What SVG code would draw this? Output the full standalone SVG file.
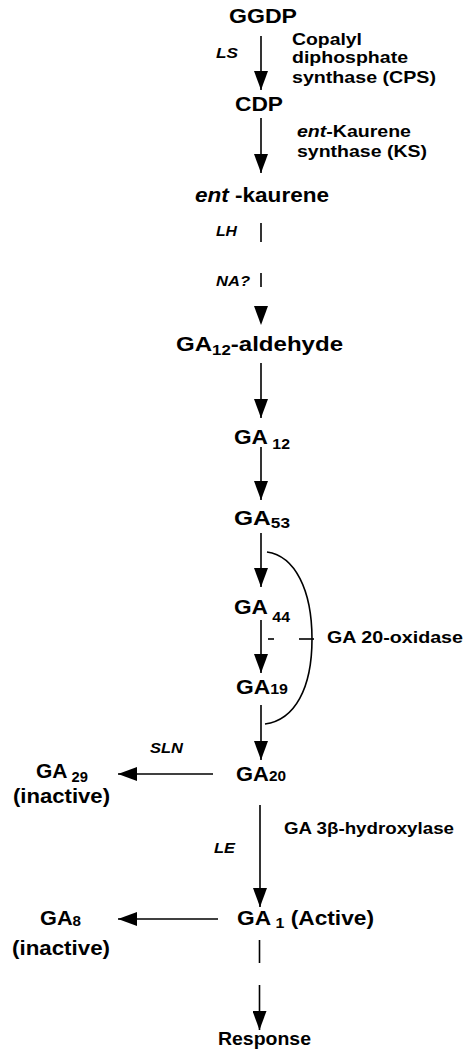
<svg xmlns="http://www.w3.org/2000/svg" width="474" height="1052" viewBox="0 0 474 1052">
<style>
text{font-family:"Liberation Sans",Arial,Helvetica,sans-serif;font-weight:bold;fill:#000}
.n{font-size:20px}
.e{font-size:17px}
.g{font-size:14px;font-style:italic}
.it{font-style:italic}
.sub{font-size:14px}
.ln{stroke:#000;stroke-width:1.6;fill:none}
.hd{fill:#000;stroke:none}
</style>
<defs>
<marker id="ah" markerUnits="userSpaceOnUse" markerWidth="19" markerHeight="14" viewBox="0 0 19 14" refX="19" refY="7" orient="auto">
<path d="M0,0 L19,7 L0,14 z" fill="#000"/>
</marker>
</defs>
<rect width="474" height="1052" fill="#fff"/>

<g id="connectors">
<line class="ln" x1="261" y1="36" x2="261" y2="90" marker-end="url(#ah)"/>
<line class="ln" x1="261" y1="118" x2="261" y2="173" marker-end="url(#ah)"/>
<line class="ln" x1="261" y1="223" x2="261" y2="242"/>
<line class="ln" x1="261" y1="273" x2="261" y2="287"/>
<path class="hd" d="M254,306 L268,306 L261,325 z"/>
<line class="ln" x1="261" y1="363" x2="261" y2="418" marker-end="url(#ah)"/>
<line class="ln" x1="261" y1="447" x2="261" y2="500" marker-end="url(#ah)"/>
<line class="ln" x1="261" y1="533" x2="261" y2="587" marker-end="url(#ah)"/>
<line class="ln" x1="261" y1="620" x2="261" y2="673" marker-end="url(#ah)"/>
<line class="ln" x1="261" y1="705" x2="261" y2="760" marker-end="url(#ah)"/>
<line class="ln" x1="260" y1="805" x2="260" y2="907" marker-end="url(#ah)"/>
<line class="ln" x1="259.5" y1="940" x2="259.5" y2="963"/>
<line class="ln" x1="259.5" y1="985" x2="259.5" y2="1030" marker-end="url(#ah)"/>
<line class="ln" x1="213" y1="774" x2="118" y2="774" marker-end="url(#ah)"/>
<line class="ln" x1="218" y1="919" x2="118" y2="919" marker-end="url(#ah)"/>
<path class="ln" d="M267,552 C295,556 312,590 312,639 C312,688 295,720 265,724"/>
<line class="ln" x1="268" y1="639" x2="274" y2="639"/>
<line class="ln" x1="299" y1="639" x2="314" y2="639"/>
</g>

<g id="GGDP"><text class="n" x="229" y="23" textLength="68" lengthAdjust="spacingAndGlyphs">GGDP</text></g>
<g id="CPS">
<text class="e" x="292" y="45" textLength="70" lengthAdjust="spacingAndGlyphs">Copalyl</text>
<text class="e" x="292" y="63" textLength="116" lengthAdjust="spacingAndGlyphs">diphosphate</text>
<text class="e" x="292" y="83" textLength="144" lengthAdjust="spacingAndGlyphs">synthase (CPS)</text>
</g>
<g id="LS"><text class="g" x="216" y="58" textLength="22" lengthAdjust="spacingAndGlyphs">LS</text></g>
<g id="CDP"><text class="n" x="235" y="111" textLength="48" lengthAdjust="spacingAndGlyphs">CDP</text></g>
<g id="KS">
<text class="e" x="297" y="137" textLength="114" lengthAdjust="spacingAndGlyphs"><tspan class="it">ent</tspan>-Kaurene</text>
<text class="e" x="297" y="157" textLength="130" lengthAdjust="spacingAndGlyphs">synthase (KS)</text>
</g>
<g id="entkaurene"><text class="n" x="195" y="202" textLength="134" lengthAdjust="spacingAndGlyphs"><tspan class="it">ent</tspan> -kaurene</text></g>
<g id="LH"><text class="g" x="216" y="236" textLength="21" lengthAdjust="spacingAndGlyphs">LH</text></g>
<g id="NA"><text class="g" x="216" y="286" textLength="34" lengthAdjust="spacingAndGlyphs">NA?</text></g>
<g id="GA12ald"><text class="n" x="176" y="351" textLength="167" lengthAdjust="spacingAndGlyphs">GA<tspan class="sub" dy="4">12</tspan><tspan dy="-4">-aldehyde</tspan></text></g>
<g id="GA12"><text class="n" x="234" y="444" textLength="56" lengthAdjust="spacingAndGlyphs">GA<tspan class="sub" dy="5"> 12</tspan></text></g>
<g id="GA53"><text class="n" x="234" y="525" textLength="56" lengthAdjust="spacingAndGlyphs">GA<tspan class="sub" dy="3">53</tspan></text></g>
<g id="GA44"><text class="n" x="234" y="614" textLength="56" lengthAdjust="spacingAndGlyphs">GA<tspan class="sub" dy="8"> 44</tspan></text></g>
<g id="GA20ox"><text class="e" x="327" y="643" textLength="136" lengthAdjust="spacingAndGlyphs">GA 20-oxidase</text></g>
<g id="GA19"><text class="n" x="236" y="694" textLength="52" lengthAdjust="spacingAndGlyphs">GA<tspan class="sub">19</tspan></text></g>
<g id="SLN"><text class="g" x="150" y="753" textLength="33" lengthAdjust="spacingAndGlyphs">SLN</text></g>
<g id="GA20"><text class="n" x="236" y="781" textLength="50" lengthAdjust="spacingAndGlyphs">GA<tspan class="sub">20</tspan></text></g>
<g id="GA29">
<text class="n" x="36" y="778" textLength="52" lengthAdjust="spacingAndGlyphs">GA<tspan class="sub" dy="4"> 29</tspan></text>
<text class="n" x="13" y="803" textLength="97" lengthAdjust="spacingAndGlyphs">(inactive)</text>
</g>
<g id="GA3ox"><text class="e" x="284" y="834" textLength="170" lengthAdjust="spacingAndGlyphs">GA 3β-hydroxylase</text></g>
<g id="LE"><text class="g" x="214" y="853" textLength="21" lengthAdjust="spacingAndGlyphs">LE</text></g>
<g id="GA1"><text class="n" x="237" y="925" textLength="137" lengthAdjust="spacingAndGlyphs">GA<tspan class="sub" dy="3"> 1</tspan><tspan dy="-3"> (Active)</tspan></text></g>
<g id="GA8">
<text class="n" x="40" y="925" textLength="41" lengthAdjust="spacingAndGlyphs">GA<tspan class="sub" dy="1">8</tspan></text>
<text class="n" x="12" y="955" textLength="98" lengthAdjust="spacingAndGlyphs">(inactive)</text>
</g>
<g id="Response"><text class="n" style="font-size:18px" x="218" y="1045" textLength="93" lengthAdjust="spacingAndGlyphs">Response</text></g>
</svg>
